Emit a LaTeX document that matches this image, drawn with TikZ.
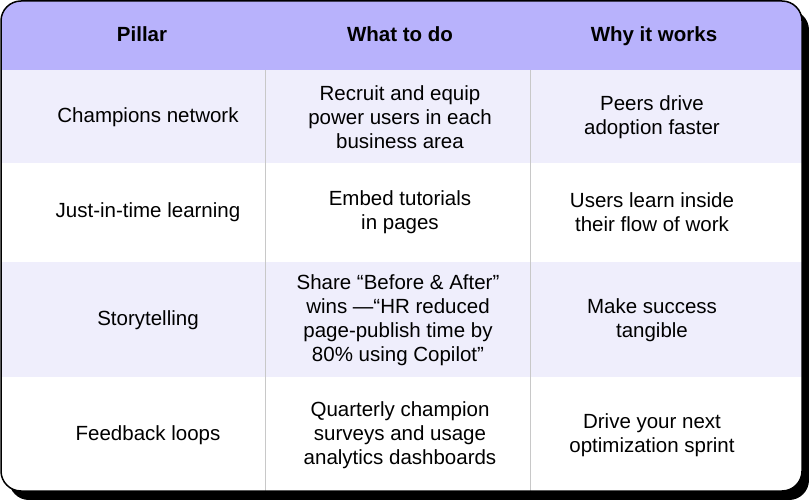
\documentclass[tikz,border=0pt]{standalone}
\usepackage{fontspec}
\setmainfont{Liberation Sans}
\definecolor{hdr}{HTML}{B8B2FC}
\definecolor{alt}{HTML}{EFEEFC}
\definecolor{sep}{HTML}{C8C8C8}
\begin{document}
\begin{tikzpicture}[x=1pt,y=-1pt,
  cell/.style={align=center,font=\fontsize{20.5}{24}\selectfont,text=black,inner sep=0},
  hcell/.style={cell,font=\fontsize{20.5}{24}\selectfont\bfseries,text height=15,text depth=4}]
\useasboundingbox (0,0) rectangle (809,500);
\fill[black,rounded corners=20] (9,10) rectangle (809,500);
\begin{scope}
\clip[rounded corners=20] (1,1) rectangle (802,491);
\fill[white] (1,1) rectangle (802,491);
\fill[hdr] (1,1) rectangle (802,70);
\fill[alt] (1,70) rectangle (802,163);
\fill[alt] (1,262) rectangle (802,377);
\end{scope}
\draw[sep] (265,70) -- (265,491) (530,70) -- (530,491);
\draw[black,line width=1.5,rounded corners=20] (1,1) rectangle (802,491);
\node[hcell] (h1) at (142,36) {Pillar};
\node[hcell] (h2) at (400,36) {What to do};
\node[hcell] (h3) at (654,36) {Why it works};
\node[cell] (a1) at (148,117) {Champions network};
\node[cell] (b1) at (400,117) {Recruit and equip\\power users in each\\business area};
\node[cell] (c1) at (652,117) {Peers drive\\adoption faster};
\node[cell] (a2) at (148,212) {Just-in-time learning};
\node[cell] (b2) at (400,212) {Embed tutorials\\in pages};
\node[cell] (c2) at (652,212) {Users learn inside\\their flow of work};
\node[cell] (a3) at (148,320) {Storytelling};
\node[cell] (b3) at (398,320) {Share “Before \& After”\\wins —“HR reduced\\page-publish time by\\80\% using Copilot”};
\node[cell] (c3) at (652,320) {Make success\\tangible};
\node[cell] (a4) at (148,435) {Feedback loops};
\node[cell] (b4) at (400,435) {Quarterly champion\\surveys and usage\\analytics dashboards};
\node[cell] (c4) at (652,435) {Drive your next\\optimization sprint};
\end{tikzpicture}
\end{document}
